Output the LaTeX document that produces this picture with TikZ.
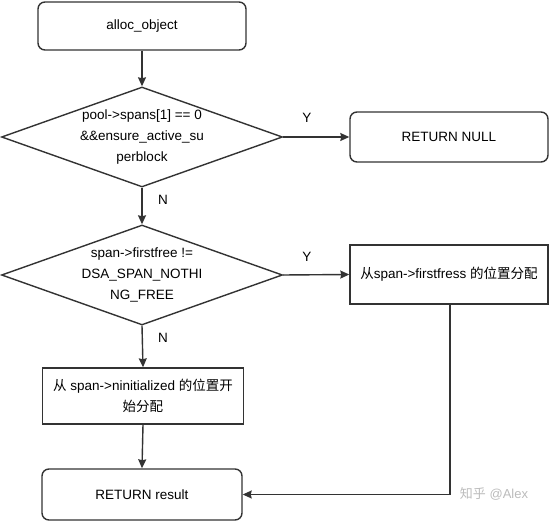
\documentclass[tikz,border=0pt]{standalone}
\usepackage{fontspec}
\setmainfont{Liberation Sans}
\newfontfamily\cjk{Noto Sans CJK SC}
\usetikzlibrary{shapes.geometric,arrows.meta}
\definecolor{linec}{HTML}{333333}
\definecolor{wm}{HTML}{BBBBBB}
\tikzset{
  base/.style={draw=linec, line width=1.4pt, fill=white, inner sep=0pt, align=center,
    font=\fontsize{13.5}{20.5}\selectfont},
  rbox/.style={base, rectangle, rounded corners=7pt},
  sbox/.style={base, rectangle},
  dia/.style={draw=linec, line width=1.4pt, fill=white, diamond, inner sep=0pt,
    minimum width=281pt, minimum height=100pt},
  dtext/.style={align=center, inner sep=0pt, font=\fontsize{13.5}{21}\selectfont},
  conn/.style={draw=linec, line width=1.4pt, -{Stealth[length=9pt,width=8pt,inset=1pt]}},
  lbl/.style={inner sep=0pt, font=\fontsize{13.5}{16}\selectfont},
}
\begin{document}
\begin{tikzpicture}[x=1pt,y=-1pt]
\useasboundingbox (0,0) rectangle (550,521);

\node[rbox, minimum width=208pt, minimum height=48pt] (start) at (142,26) {alloc\_object};
\node[dia] (d1) at (142,137) {};
\node[dtext] (d1t) at (142,137) {pool->spans[1] == 0\\\&\&ensure\_active\_su\\perblock};
\node[rbox, minimum width=198pt, minimum height=50pt] (null) at (449,137) {RETURN NULL};

\node[dia] (d2) at (142,275) {};
\node[dtext] (d2t) at (142,275) {span->firstfree !=\\DSA\_SPAN\_NOTHI\\NG\_FREE};
\node[sbox, minimum width=198pt, minimum height=59pt] (ff) at (449,274.5) {{\cjk 从}span->firstfress {\cjk 的位置分配}};

\node[sbox, minimum width=201pt, minimum height=56pt] (ni) at (143,396) {{\cjk 从} span->ninitialized {\cjk 的位置开}\\{\cjk 始分配}};
\node[rbox, minimum width=200pt, minimum height=51pt] (res) at (142,494.5) {RETURN result};

\coordinate (corner) at (450,494.5);

\draw[conn] (start) -- (d1);
\draw[conn] (d1.east) -- (null.west);
\draw[conn] (d1.south) -- (d2.north);
\draw[conn] (d2.east) -- (ff.west);
\draw[conn] (d2.south) -- (ni.north);
\draw[conn] (ni.south) -- (res.north);
\draw[conn] (ff.south -| corner) -- (corner) -- (res.east);

\node[lbl] (y1) at (307,118) {Y};
\node[lbl] (n1) at (163,200) {N};
\node[lbl] (y2) at (307,257) {Y};
\node[lbl] (n2) at (163,338) {N};

\node[inner sep=0pt, text=wm, font=\fontsize{13}{16}\selectfont] (wmk) at (494,494) {{\cjk 知乎} @Alex};
\end{tikzpicture}
\end{document}
